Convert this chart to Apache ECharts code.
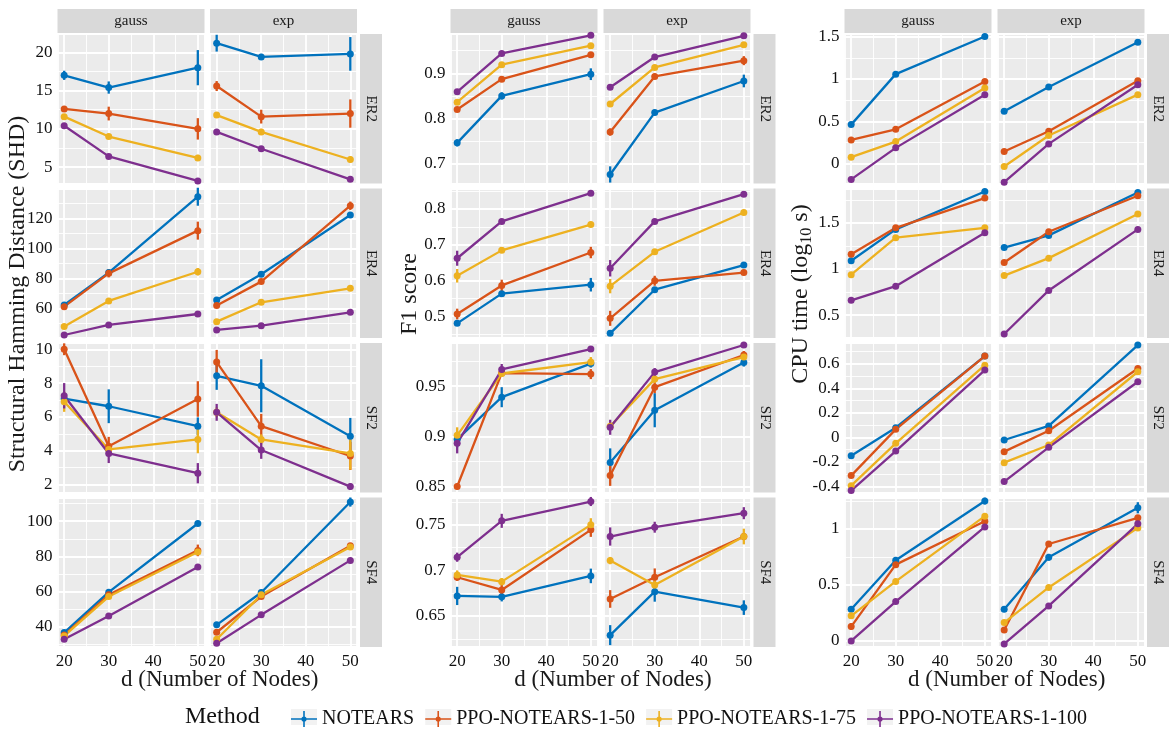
<!DOCTYPE html>
<html><head><meta charset="utf-8">
<script src="https://cdn.jsdelivr.net/npm/echarts@6/dist/echarts.min.js"></script>
<style>html,body{margin:0;padding:0;background:#fff}#c{width:1176px;height:729px}</style>
</head><body><div id="c"></div><script>
// ---------- categories ----------
const methods = ['NOTEARS', 'PPO-NOTEARS-1-50', 'PPO-NOTEARS-1-75', 'PPO-NOTEARS-1-100'];
const nodes = [20, 30, 50];
const noiseTypes = ['gauss', 'exp'];
const graphTypes = ['ER2', 'ER4', 'SF2', 'SF4'];
const xTicks = [20, 30, 40, 50];

// ---------- SHD values [method][node] and error half-widths ----------
const shd_ER2_gauss = [[17.0,15.4,18.0],[12.6,12.0,10.0],[11.6,9.0,6.2],[10.4,6.4,3.2]];
const shd_ER2_exp   = [[21.2,19.4,19.8],[15.6,11.6,12.0],[11.8,9.6,6.0],[9.6,7.4,3.4]];
const shd_ER4_gauss = [[62.2,83.8,134.4],[61.1,83.3,111.8],[47.8,64.9,84.4],[42.2,48.9,56.2]];
const shd_ER4_exp   = [[65.6,82.7,122.2],[61.8,77.8,128.4],[51.1,64.0,73.3],[45.6,48.4,57.3]];
const shd_SF2_gauss = [[7.08,6.63,5.45],[10.0,4.27,7.06],[6.9,4.08,4.67],[7.25,3.84,2.67]];
const shd_SF2_exp   = [[8.43,7.84,4.86],[9.24,5.45,3.69],[6.27,4.67,3.84],[6.27,4.04,1.88]];
const shd_SF4_gauss = [[36.6,59.6,98.7],[35.2,58.1,83.4],[34.7,57.1,82.5],[32.8,46.1,73.9]];
const shd_SF4_exp   = [[41.0,59.4,110.9],[36.8,57.1,86.1],[32.8,58.1,85.3],[30.5,46.7,77.7]];
const shdErr_ER2_gauss = [[0.6,0.8,2.3],[0.3,0.9,1.4],[0.3,0.3,0.4],[0.2,0.2,0.2]];
const shdErr_ER2_exp   = [[1.1,0.4,2.2],[0.65,0.9,1.85],[0.3,0.4,0.4],[0.2,0.2,0.2]];
const shdErr_ER4_gauss = [[2,2,6],[2,2.7,6],[1.5,1.5,2.5],[1,1,1]];
const shdErr_ER4_exp   = [[1.5,1.5,1.5],[1.5,1.5,2.8],[1.5,1.5,1.5],[1,1,1]];
const shdErr_SF2_gauss = [[0.2,1.0,0.52],[0.35,0.55,1.05],[0.6,0.3,0.82],[0.75,0.57,0.6]];
const shdErr_SF2_exp   = [[0.83,1.57,1.08],[0.72,0.73,0.83],[0.3,0.3,0.96],[0.5,0.52,0.2]];
const shdErr_SF4_gauss = [[1,1,1.5],[1,1,3.3],[1,1,1],[1,1,1]];
const shdErr_SF4_exp   = [[1,1,2.6],[1,1,1],[1,1,1],[1,1,1]];

// ---------- F1 values ----------
const f1_ER2_gauss = [[0.746,0.850,0.898],[0.820,0.887,0.941],[0.836,0.919,0.961],[0.859,0.944,0.984]];
const f1_ER2_exp   = [[0.676,0.813,0.883],[0.770,0.893,0.928],[0.832,0.913,0.963],[0.869,0.936,0.983]];
const f1_ER4_gauss = [[0.480,0.563,0.588],[0.506,0.586,0.678],[0.613,0.684,0.756],[0.662,0.765,0.844]];
const f1_ER4_exp   = [[0.452,0.574,0.643],[0.494,0.599,0.622],[0.584,0.680,0.790],[0.634,0.765,0.841]];
const f1_SF2_gauss = [[0.897,0.939,0.9725],[0.850,0.963,0.962],[0.901,0.9626,0.974],[0.893,0.9666,0.987]];
const f1_SF2_exp   = [[0.874,0.926,0.9735],[0.861,0.949,0.981],[0.910,0.957,0.979],[0.909,0.964,0.991]];
const f1_SF4_gauss = [[0.672,0.671,0.694],[0.6925,0.6786,0.7445],[0.695,0.6877,0.750],[0.7145,0.7544,0.7756]];
const f1_SF4_exp   = [[0.629,0.6767,0.6592],[0.6687,0.6925,0.7372],[0.7108,0.6841,0.7372],[0.7372,0.7474,0.7628]];
const f1Err_ER2_gauss = [[0.008,0.008,0.013],[0.005,0.005,0.005],[0.004,0.004,0.004],[0.003,0.003,0.003]];
const f1Err_ER2_exp   = [[0.018,0.006,0.014],[0.008,0.006,0.01],[0.004,0.004,0.004],[0.003,0.003,0.003]];
const f1Err_ER4_gauss = [[0.006,0.006,0.019],[0.015,0.016,0.016],[0.019,0.006,0.006],[0.021,0.006,0.004]];
const f1Err_ER4_exp   = [[0.005,0.005,0.005],[0.021,0.014,0.008],[0.02,0.006,0.005],[0.023,0.005,0.005]];
const f1Err_SF2_gauss = [[0.008,0.01,0.004],[0.003,0.003,0.005],[0.008,0.003,0.005],[0.01,0.0055,0.003]];
const f1Err_SF2_exp   = [[0.014,0.017,0.004],[0.0104,0.006,0.004],[0.004,0.004,0.005],[0.0075,0.004,0.003]];
const f1Err_SF4_gauss = [[0.01,0.005,0.008],[0.004,0.006,0.0077],[0.005,0.004,0.0073],[0.005,0.0077,0.005]];
const f1Err_SF4_exp   = [[0.011,0.011,0.008],[0.0097,0.0097,0.004],[0.004,0.008,0.0086],[0.01,0.006,0.0066]];

// ---------- CPU time (log10 s) ----------
const cpu_ER2_gauss = [[0.462,1.057,1.5],[0.282,0.407,0.971],[0.078,0.262,0.893],[-0.184,0.188,0.815]];
const cpu_ER2_exp   = [[0.619,0.905,1.433],[0.145,0.384,0.979],[-0.031,0.333,0.815],[-0.216,0.235,0.932]];
const cpu_ER4_gauss = [[1.089,1.429,1.839],[1.161,1.446,1.768],[0.939,1.339,1.446],[0.661,0.814,1.393]];
const cpu_ER4_exp   = [[1.232,1.364,1.829],[1.071,1.404,1.793],[0.929,1.118,1.596],[0.296,0.768,1.429]];
const cpu_SF2_gauss = [[-0.150,0.079,0.664],[-0.313,0.065,0.664],[-0.395,-0.049,0.590],[-0.435,-0.112,0.550]];
const cpu_SF2_exp   = [[-0.022,0.093,0.754],[-0.117,0.054,0.563],[-0.207,-0.063,0.536],[-0.362,-0.082,0.454]];
const cpu_SF4_gauss = [[0.281,0.719,1.249],[0.126,0.680,1.069],[0.222,0.530,1.114],[-0.003,0.350,1.018]];
const cpu_SF4_exp   = [[0.281,0.746,1.189],[0.096,0.865,1.099],[0.162,0.476,1.009],[-0.030,0.311,1.045]];
const cpuErr_ER2_gauss = [[0.01,0.01,0.01],[0.01,0.01,0.01],[0.01,0.01,0.01],[0.01,0.01,0.01]];
const cpuErr_ER2_exp   = [[0.01,0.01,0.01],[0.01,0.01,0.01],[0.01,0.01,0.01],[0.01,0.01,0.01]];
const cpuErr_ER4_gauss = [[0.01,0.01,0.01],[0.01,0.01,0.01],[0.01,0.01,0.01],[0.01,0.01,0.01]];
const cpuErr_ER4_exp   = [[0.01,0.01,0.01],[0.01,0.01,0.01],[0.01,0.01,0.01],[0.01,0.01,0.01]];
const cpuErr_SF2_gauss = [[0.01,0.01,0.01],[0.01,0.01,0.01],[0.01,0.01,0.01],[0.01,0.01,0.01]];
const cpuErr_SF2_exp   = [[0.01,0.01,0.01],[0.01,0.01,0.01],[0.01,0.01,0.01],[0.01,0.01,0.01]];
const cpuErr_SF4_gauss = [[0.01,0.03,0.03],[0.03,0.02,0.02],[0.01,0.01,0.01],[0.01,0.01,0.01]];
const cpuErr_SF4_exp   = [[0.01,0.03,0.05],[0.01,0.01,0.01],[0.01,0.01,0.01],[0.01,0.01,0.01]];

// ---------- y scales per facet row: [min, max, tick interval] ----------
const shdScale = {ER2:[2.86,22.4,5], ER4:[40.2,139.9,20], SF2:[1.53,10.37,2], SF4:[28.4,113.5,20]};
const f1Scale  = {ER2:[0.656,0.987,0.1], ER4:[0.439,0.857,0.1], SF2:[0.844,0.993,0.05], SF4:[0.616,0.780,0.05]};
const cpuScale = {ER2:[-0.232,1.53,0.5], ER4:[0.253,1.872,0.5], SF2:[-0.451,0.771,0.2], SF4:[-0.057,1.281,0.5]};
const xRange = [18.5, 51.5];

// ---------- tables built from the arrays ----------
const blocks = [
  {title:'Structural Hamming Distance (SHD)', scale:shdScale,
   vals:{ER2:{gauss:shd_ER2_gauss,exp:shd_ER2_exp},ER4:{gauss:shd_ER4_gauss,exp:shd_ER4_exp},SF2:{gauss:shd_SF2_gauss,exp:shd_SF2_exp},SF4:{gauss:shd_SF4_gauss,exp:shd_SF4_exp}},
   errs:{ER2:{gauss:shdErr_ER2_gauss,exp:shdErr_ER2_exp},ER4:{gauss:shdErr_ER4_gauss,exp:shdErr_ER4_exp},SF2:{gauss:shdErr_SF2_gauss,exp:shdErr_SF2_exp},SF4:{gauss:shdErr_SF4_gauss,exp:shdErr_SF4_exp}}},
  {title:'F1 score', scale:f1Scale,
   vals:{ER2:{gauss:f1_ER2_gauss,exp:f1_ER2_exp},ER4:{gauss:f1_ER4_gauss,exp:f1_ER4_exp},SF2:{gauss:f1_SF2_gauss,exp:f1_SF2_exp},SF4:{gauss:f1_SF4_gauss,exp:f1_SF4_exp}},
   errs:{ER2:{gauss:f1Err_ER2_gauss,exp:f1Err_ER2_exp},ER4:{gauss:f1Err_ER4_gauss,exp:f1Err_ER4_exp},SF2:{gauss:f1Err_SF2_gauss,exp:f1Err_SF2_exp},SF4:{gauss:f1Err_SF4_gauss,exp:f1Err_SF4_exp}}},
  {title:'CPU time (log{sub|10} s)', scale:cpuScale,
   vals:{ER2:{gauss:cpu_ER2_gauss,exp:cpu_ER2_exp},ER4:{gauss:cpu_ER4_gauss,exp:cpu_ER4_exp},SF2:{gauss:cpu_SF2_gauss,exp:cpu_SF2_exp},SF4:{gauss:cpu_SF4_gauss,exp:cpu_SF4_exp}},
   errs:{ER2:{gauss:cpuErr_ER2_gauss,exp:cpuErr_ER2_exp},ER4:{gauss:cpuErr_ER4_gauss,exp:cpuErr_ER4_exp},SF2:{gauss:cpuErr_SF2_gauss,exp:cpuErr_SF2_exp},SF4:{gauss:cpuErr_SF4_gauss,exp:cpuErr_SF4_exp}}}
];

// ---------- layout & style ----------
const colors = ['#0072BD', '#D95319', '#EDB120', '#7E2F8E'];
const FONT = 'Liberation Serif';
const blockCols = [[57.5, 210], [450.5, 603.5], [844.5, 997.5]];
const stripXs = [360, 753.5, 1147];
const rowTops = [34, 188.5, 343, 497.5];
const PW = 147, PH = 149.5, STRIP_W = 22, TOP_STRIP_Y = 9, TOP_STRIP_H = 24;
const yTitleX = [18, 410, 801];
const yTitleY = 294;
const LEG_LEFT = 291, LEG_CY = 717, KEY_W = 26, KEY_H = 16, LEG_GAP = 11, LEG_FS = 20;

function fmt(v) { return String(+v.toFixed(6)); }
function onTick(v, iv) { const r = v / iv; return Math.abs(r - Math.round(r)) < 1e-6; }

const grids = [], xAxes = [], yAxes = [], series = [], graphics = [];
const gridLine = {show:true, lineStyle:{color:'#ffffff', width:1.8}};
const minorLine = {show:true, lineStyle:{color:'#ffffff', width:0.9}};
const tickFont = {fontFamily: FONT, fontSize: 17, color:'#111'};

blocks.forEach((b, bi) => {
  graphTypes.forEach((g, ri) => {
    const [ymin, ymax, yiv] = b.scale[g];
    noiseTypes.forEach((n, ci) => {
      const gi = grids.length;
      grids.push({left: blockCols[bi][ci], top: rowTops[ri], width: PW, height: PH,
        show: true, backgroundColor: '#EBEBEB', borderWidth: 0, containLabel: false});
      xAxes.push({type:'value', gridIndex: gi, min: xRange[0], max: xRange[1],
        minInterval: 10, maxInterval: 10, splitNumber: 3,
        axisLine:{show:false}, axisTick:{show:false},
        minorTick:{show:false, splitNumber:2},
        splitLine: gridLine, minorSplitLine: minorLine,
        axisLabel: Object.assign({show: ri === 3, margin: 6,
          showMinLabel:false, showMaxLabel:false,
          formatter: v => (xTicks.indexOf(Math.round(v*1000)/1000) >= 0 ? fmt(v) : '')}, tickFont)});
      yAxes.push({type:'value', gridIndex: gi, min: ymin, max: ymax,
        minInterval: yiv, maxInterval: yiv, splitNumber: Math.round((ymax - ymin) / yiv),
        axisLine:{show:false}, axisTick:{show:false},
        minorTick:{show:false, splitNumber:2},
        splitLine: gridLine, minorSplitLine: minorLine,
        axisLabel: Object.assign({show: ci === 0, margin: 5,
          showMinLabel:false, showMaxLabel:false,
          formatter: v => (onTick(v, yiv) ? fmt(v) : '')}, tickFont)});
      const vals = b.vals[g][n], errs = b.errs[g][n];
      methods.forEach((m, mi) => {
        series.push({type:'line', name: m, xAxisIndex: gi, yAxisIndex: gi,
          data: nodes.map((d, k) => [d, vals[mi][k]]),
          symbol:'circle', symbolSize: 7, showSymbol: true,
          lineStyle:{color: colors[mi], width: 2.3}, itemStyle:{color: colors[mi]},
          emphasis:{disabled:true}, silent:true, animation:false, z: 3});
        series.push({type:'custom', name: m, xAxisIndex: gi, yAxisIndex: gi,
          data: nodes.map((d, k) => [d, vals[mi][k] - errs[mi][k], vals[mi][k] + errs[mi][k]]),
          encode:{x:0, y:[1,2]}, clip:false, silent:true, animation:false, z: 3,
          renderItem: (params, api) => {
            const p1 = api.coord([api.value(0), api.value(1)]);
            const p2 = api.coord([api.value(0), api.value(2)]);
            return {type:'line', shape:{x1:p1[0], y1:p1[1], x2:p2[0], y2:p2[1]},
              style:{stroke: colors[mi], lineWidth: 2.3}};
          }});
      });
    });
    // right facet strip
    graphics.push({type:'rect', silent:true, shape:{x: stripXs[bi], y: rowTops[ri], width: STRIP_W, height: PH}, style:{fill:'#D9D9D9'}});
    graphics.push({type:'text', silent:true, x: stripXs[bi] + STRIP_W/2, y: rowTops[ri] + PH/2, rotation: -Math.PI/2,
      style:{text: g, fontFamily: FONT, fontSize: 15, fill:'#1A1A1A', align:'center', verticalAlign:'middle'}});
  });
  // top facet strips
  noiseTypes.forEach((n, ci) => {
    graphics.push({type:'rect', silent:true, shape:{x: blockCols[bi][ci], y: TOP_STRIP_Y, width: PW, height: TOP_STRIP_H}, style:{fill:'#D9D9D9'}});
    graphics.push({type:'text', silent:true, x: blockCols[bi][ci] + PW/2, y: TOP_STRIP_Y + TOP_STRIP_H/2,
      style:{text: n, fontFamily: FONT, fontSize: 15, fill:'#1A1A1A', align:'center', verticalAlign:'middle'}});
  });
  // axis titles
  graphics.push({type:'text', silent:true, x: yTitleX[bi], y: yTitleY, rotation: Math.PI/2,
    style:{text: b.title, fontFamily: FONT, fontSize: 24, fill:'#1A1A1A', align:'center', verticalAlign:'middle',
      rich:{sub:{fontFamily: FONT, fontSize: 16, fill:'#1A1A1A', padding:[12,0,0,0]}}}});
  const xc = (blockCols[bi][0] + stripXs[bi] + STRIP_W) / 2;
  graphics.push({type:'text', silent:true, x: xc, y: 680,
    style:{text:'d (Number of Nodes)', fontFamily: FONT, fontSize: 23, fill:'#1A1A1A', align:'center', verticalAlign:'middle'}});
});

// legend title and key backgrounds (positions follow the legend's own text widths)
graphics.push({type:'text', silent:true, x: 185, y: LEG_CY,
  style:{text:'Method', fontFamily: FONT, fontSize: 24, fill:'#111', align:'left', verticalAlign:'middle'}});
const mctx = document.createElement('canvas').getContext('2d');
mctx.font = LEG_FS + 'px "' + FONT + '"';
let kx = LEG_LEFT;
methods.forEach(m => {
  graphics.push({type:'rect', silent:true, z: -1, shape:{x: kx, y: LEG_CY - KEY_H/2, width: KEY_W, height: KEY_H}, style:{fill:'#F2F2F2'}});
  kx += KEY_W + 5 + mctx.measureText(m).width + LEG_GAP;
});

const keyIcon = 'path://M0,7.2L26,7.2L26,8.8L0,8.8Z M12.2,0L13.8,0L13.8,16L12.2,16Z M15.6,8A2.6,2.6 0 1 1 10.4,8A2.6,2.6 0 1 1 15.6,8Z';

const chart = echarts.init(document.getElementById('c'), null, {renderer:'canvas'});
chart.setOption({
  backgroundColor:'#ffffff',
  animation:false,
  textStyle:{fontFamily: FONT},
  grid: grids, xAxis: xAxes, yAxis: yAxes, series: series,
  legend:{left: LEG_LEFT, top: LEG_CY - KEY_H/2, itemWidth: KEY_W, itemHeight: KEY_H, itemGap: LEG_GAP, selectedMode:false,
    padding: 0,
    textStyle:{fontFamily: FONT, fontSize: LEG_FS, color:'#111'},
    data: methods.map(m => ({name: m, icon: keyIcon}))},
  graphic: {elements: graphics}
});
</script></body></html>
